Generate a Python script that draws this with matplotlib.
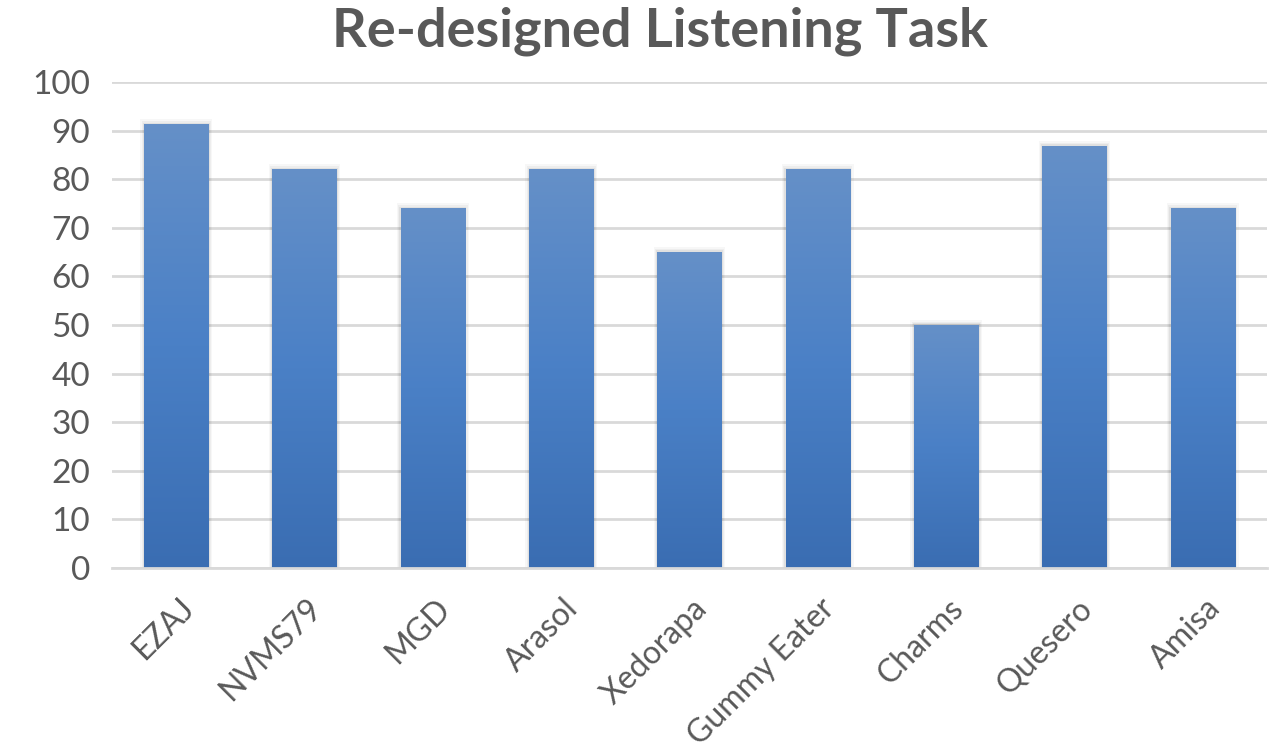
import matplotlib
matplotlib.use("Agg")
import matplotlib.pyplot as plt
import numpy as np
from matplotlib.colors import LinearSegmentedColormap

categories = ["EZAJ", "NVMS79", "MGD", "Arasol", "Xedorapa", "Gummy Eater", "Charms", "Quesero", "Amisa"]
values = [91.3, 82, 74, 82, 65, 82, 50, 86.8, 74]
yticks = [0, 10, 20, 30, 40, 50, 60, 70, 80, 90, 100]
title = "Re-designed Listening Task"

plt.rcParams['font.family'] = ['Lato', 'DejaVu Sans']
text_color = "#595959"
grid_color = "#d9d9d9"

fig = plt.figure(figsize=(12.79, 7.45), dpi=100)
ax = fig.add_axes([0.0876, 0.2376, 0.9906 - 0.0876, 0.8899 - 0.2376])

x = np.arange(len(categories))
bars = ax.bar(x, values, width=0.5, color="none", edgecolor="none", zorder=3)

cmap = LinearSegmentedColormap.from_list("g", ["#3a6db2", "#4a80c6", "#6590c8"])
grad = np.linspace(0, 1, 256).reshape(-1, 1)
for b in bars:
    x0, y0 = b.get_x(), b.get_y()
    w, h = b.get_width(), b.get_height()
    # soft shadow
    for k, a in enumerate([0.05, 0.04, 0.03]):
        d = 0.01 * (k + 1)
        ax.add_patch(plt.Rectangle((x0 - d, y0), w + 2 * d, h + 0.35 * (k + 1),
                                   facecolor="#000000", alpha=a, edgecolor="none", zorder=2))
    ax.imshow(grad, extent=(x0, x0 + w, y0, y0 + h), origin="lower", cmap=cmap,
              aspect="auto", zorder=3, interpolation="bicubic")

ax.set_xlim(-0.5, len(categories) - 0.5)
ax.set_ylim(0, 100)
ax.set_yticks(yticks)
ax.set_yticklabels([str(t) for t in yticks], fontsize=24, color=text_color)
ax.set_xticks(x)
ax.set_xticklabels(categories, rotation=45, ha="right", rotation_mode="anchor",
                   fontsize=23, color=text_color)
ax.tick_params(axis="both", length=0)
ax.tick_params(axis="y", pad=16)
ax.tick_params(axis="x", pad=18)
for lab in ax.get_xticklabels():
    lab.set_transform(lab.get_transform() + matplotlib.transforms.ScaledTranslation(0.02, 0, fig.dpi_scale_trans))

ax.grid(axis="y", color=grid_color, linewidth=2, zorder=0)
ax.set_axisbelow(True)
for s in ["top", "right", "left"]:
    ax.spines[s].set_visible(False)
ax.spines["bottom"].set_color(grid_color)
ax.spines["bottom"].set_linewidth(2)
ax.spines["bottom"].set_zorder(4)

fig.text(0.516, 0.958, title, ha="center", va="center", fontsize=39, fontweight="bold", color=text_color)

fig.savefig("out.png", dpi=100)
